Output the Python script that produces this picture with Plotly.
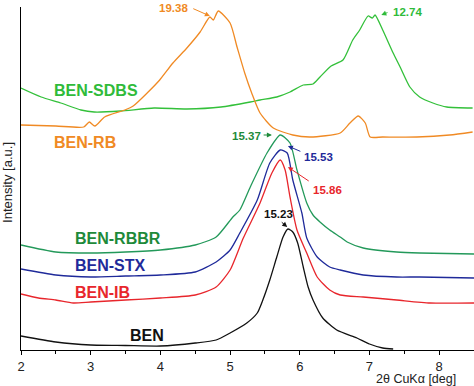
import plotly.graph_objects as go

# ---- data (2theta in deg, intensity in a.u.) ----
ben_x = [2.0, 2.5, 3.0, 3.5, 4.0, 4.5, 4.8, 5.0, 5.24, 5.39, 5.47, 5.57, 5.67, 5.76, 5.83, 5.9, 5.97, 6.05, 6.12, 6.19, 6.33, 6.53, 6.82, 7.0, 7.19, 7.34]
ben_y = [14, 8, 5, 4.5, 4, 7, 10, 17, 27, 37, 50, 70, 93, 113, 121, 118, 107, 83, 63, 50, 32, 20, 12, 6, 2, 1]

ib_x = [2.0, 2.25, 2.5, 2.75, 3.0, 3.5, 4.0, 4.5, 4.8, 5.0, 5.19, 5.43, 5.6, 5.72, 5.79, 5.86, 5.96, 6.1, 6.25, 6.43, 6.58, 6.91, 7.39, 7.87, 8.5]
ib_y = [56, 52, 50, 47, 48, 50, 52, 55, 63, 80, 112, 147, 177, 190, 180, 153, 120, 97, 73, 60, 55, 53, 50, 47, 47]

stx_x = [2.0, 2.5, 3.0, 3.5, 4.0, 4.5, 4.8, 5.0, 5.14, 5.39, 5.57, 5.72, 5.82, 5.9, 6.03, 6.1, 6.25, 6.43, 6.58, 6.91, 7.39, 7.72, 8.5]
stx_y = [81, 75, 73, 74, 75, 78, 88, 100, 117, 150, 187, 200, 197, 170, 137, 112, 93, 83, 80, 75, 73, 73, 72]

rbbr_x = [2.0, 2.5, 3.0, 3.5, 4.0, 4.5, 4.8, 5.04, 5.14, 5.29, 5.53, 5.72, 5.86, 5.96, 6.1, 6.19, 6.29, 6.43, 6.58, 6.68, 6.91, 7.39, 7.72, 8.5]
rbbr_y = [105, 98, 97, 98, 100, 105, 113, 133, 140, 163, 197, 215, 207, 180, 147, 135, 128, 120, 113, 108, 102, 98, 97, 96]

sdbs_x = [2.0, 2.29, 2.57, 2.86, 3.05, 3.43, 3.91, 4.38, 4.87, 5.29, 5.43, 5.67, 5.86, 6.05, 6.19, 6.29, 6.45, 6.62, 6.76, 6.86, 6.98, 7.04, 7.08, 7.19, 7.34, 7.44, 7.58, 7.72, 7.91, 8.11, 8.48]
sdbs_y = [262, 253, 247, 240, 238, 239, 242, 241, 243, 248, 250, 253, 258, 265, 266, 273, 284, 290, 310, 320, 334, 332, 335, 320, 297, 283, 263, 253, 247, 243, 242]

rb_x = [2.0, 2.5, 2.9, 2.98, 3.06, 3.2, 3.49, 3.61, 3.81, 3.99, 4.18, 4.38, 4.57, 4.71, 4.76, 4.83, 5.0, 5.1, 5.21, 5.31, 5.43, 5.62, 5.9, 6.15, 6.58, 6.72, 6.84, 6.94, 7.01, 7.19, 7.68, 8.15, 8.48]
rb_y = [225, 224, 223, 228, 224, 233, 240, 244, 257, 270, 287, 302, 318, 333, 330, 339, 327, 303, 277, 257, 237, 222, 215, 213, 217, 227, 234, 227, 213, 213, 213, 215, 218]

series_names = ["BEN", "BEN-IB", "BEN-STX", "BEN-RBBR", "BEN-SDBS", "BEN-RB"]
series_colors = ["#111111", "#e8262c", "#1f2a9a", "#23995a", "#33c03a", "#f08a24"]
label_colors = ["#111111", "#e8262c", "#1f2a9a", "#1e8a3a", "#2fbb3a", "#f08a24"]
label_pos = [(3.535, 15), (2.746, 58), (2.746, 85), (2.746, 112), (2.445, 260), (2.445, 208)]

peak_labels = ["15.23", "15.86", "15.53", "15.37", "12.74", "19.38"]
peak_text_pos = [(5.69, 136), (6.40, 160), (6.27, 193), (5.23, 214), (7.54, 338), (4.195, 342)]
peak_arrow_tail = [(5.72, 129), (6.15, 168), (6.03, 198), (5.46, 215), (7.28, 338), (4.45, 342)]
peak_arrow_head = [(5.82, 123), (5.83, 183), (5.83, 204), (5.60, 215), (7.17, 335), (4.71, 334)]

xs = [ben_x, ib_x, stx_x, rbbr_x, sdbs_x, rb_x]
ys = [ben_y, ib_y, stx_y, rbbr_y, sdbs_y, rb_y]

FONT = "Liberation Sans, Arial, sans-serif"

fig = go.Figure()
for name, x, y, c in zip(series_names, xs, ys, series_colors):
    fig.add_trace(go.Scatter(x=x, y=y, mode="lines", name=name,
                             line=dict(color=c, width=1.3, shape="spline", smoothing=0.6),
                             showlegend=False, hoverinfo="skip"))

annotations = []
for name, (lx, ly), c in zip(series_names, label_pos, label_colors):
    annotations.append(dict(x=lx, y=ly, xref="x", yref="y", text="<b>%s</b>" % name,
                            showarrow=False, xanchor="left", yanchor="middle",
                            font=dict(family=FONT, size=16, color=c)))

for txt, (tx, ty), (ax, ay), (hx, hy), c in zip(peak_labels, peak_text_pos, peak_arrow_tail,
                                                peak_arrow_head, label_colors):
    annotations.append(dict(x=tx, y=ty, xref="x", yref="y", text="<b>%s</b>" % txt,
                            showarrow=False, xanchor="center", yanchor="middle",
                            font=dict(family=FONT, size=11.5, color=c)))
    annotations.append(dict(x=hx, y=hy, xref="x", yref="y", ax=ax, ay=ay,
                            axref="x", ayref="y", text="", showarrow=True,
                            arrowhead=2, arrowsize=1, arrowwidth=1, arrowcolor=c))

annotations.append(dict(x=-0.0287, y=0.49, xref="paper", yref="paper",
                        text="Intensity [a.u.]", textangle=-90, showarrow=False,
                        xanchor="center", yanchor="middle",
                        font=dict(family=FONT, size=13, color="#222")))
annotations.append(dict(x=0.9625, y=-0.085, xref="paper", yref="paper",
                        text="2θ CuKα [deg]", showarrow=False, borderpad=0,
                        xanchor="right", yanchor="middle",
                        font=dict(family=FONT, size=12.5, color="#222")))

fig.update_layout(
    width=474, height=386,
    margin=dict(l=21, r=0, t=7, b=36),
    paper_bgcolor="white", plot_bgcolor="white",
    annotations=annotations,
    font=dict(family=FONT, size=13, color="#222"),
)
fig.update_xaxes(range=[2, 8.5], tickvals=[2, 3, 4, 5, 6, 7, 8],
                 ticks="outside", ticklen=4, tickwidth=1, tickcolor="black",
                 minor=dict(dtick=0.5, tick0=2, ticks="outside", ticklen=3, tickcolor="black"),
                 showline=True, linecolor="black", linewidth=1.3,
                 showgrid=False, zeroline=False,
                 tickfont=dict(family=FONT, size=13, color="#222"))
fig.update_yaxes(range=[0, 343], showticklabels=False, ticks="",
                 showline=True, linecolor="black", linewidth=1.3,
                 showgrid=False, zeroline=False)

fig.write_html("out.html", config={"displayModeBar": False},
               post_script="document.body.style.margin='0';document.body.style.overflow='hidden';")
